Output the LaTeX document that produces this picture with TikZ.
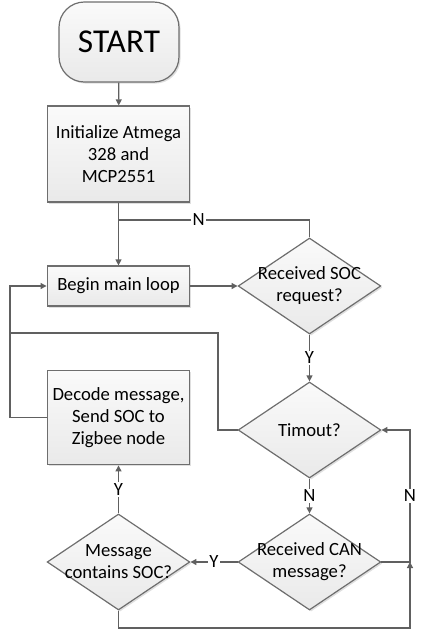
\documentclass[tikz,border=0pt]{standalone}
\usepackage{fontspec}
\setmainfont{Carlito}
\usetikzlibrary{shapes.geometric,shadows,arrows.meta}
\definecolor{edgegray}{HTML}{6E6E6E}
\definecolor{linegray}{HTML}{606060}
\tikzset{
  flowbox/.style={draw=edgegray, line width=0.9pt, top color=gray!4, bottom color=gray!17,
    drop shadow={opacity=0.25, shadow xshift=1.2pt, shadow yshift=-1.2pt},
    inner sep=0pt, align=center, font=\fontsize{14}{16.5}\selectfont},
  decision/.style={flowbox, diamond, aspect=1.49},
  dtext/.style={align=center, font=\fontsize{14}{16.5}\selectfont},
  link/.style={draw=linegray, line width=0.9pt},
  tip/.style={link, -{Triangle[length=4.5pt,width=4.5pt]}},
  lbl/.style={inner sep=1pt, fill=white, font=\fontsize{14}{16}\selectfont}
}
\begin{document}
\begin{tikzpicture}[x=0.75pt,y=0.75pt,yscale=-1,xscale=1]
\useasboundingbox (0,0) rectangle (428,637);

% boxes
\node [flowbox, rounded corners=19pt, minimum width=90pt, minimum height=60pt, font=\fontsize{25}{30}\selectfont] (start) at (119,42) {START};
\node [flowbox, minimum width=107pt, minimum height=72pt] (init) at (118.5,154) {Initialize Atmega\\328 and\\MCP2551};
\node [flowbox, minimum width=107pt, minimum height=30pt] (loop) at (118.5,286) {Begin main loop};
\node [flowbox, minimum width=107pt, minimum height=71pt] (decode) at (118.5,417.5) {Decode message,\\Send SOC to\\Zigbee node};

% decisions
\node [decision, minimum width=107pt, minimum height=72pt, label={[dtext]center:Received SOC\\request?}] (soc) at (309.5,286) {};
\node [decision, minimum width=107pt, minimum height=72pt, label={[dtext]center:Timout?}] (timeout) at (309.5,430) {};
\node [decision, minimum width=107pt, minimum height=72pt, label={[dtext]center:Received CAN\\message?}] (can) at (309.5,562) {};
\node [decision, minimum width=107pt, minimum height=72pt, label={[dtext]center:Message\\contains SOC?}] (msg) at (118.5,562) {};

% corner points
\coordinate (njoin) at (118.5,220);
\coordinate (leftrail) at (10,286);
\coordinate (tturn) at (218,430);
\coordinate (rrail) at (410,562);

% connectors
\draw [tip] (start) -- (init);
\draw [tip] (init) -- (loop);
\draw [link] (soc.north) |- (njoin) node [lbl, pos=0.79] {N};
\draw [tip] (loop) -- (soc);
\draw [tip] (soc) -- node [lbl] {Y} (timeout);
\draw [tip] (timeout) -- node [lbl] {N} (can);
\draw [tip] (can) -- node [lbl] {Y} (msg);
\draw [tip] (msg) -- node [lbl] {Y} (decode);
\draw [tip] (decode.west) -| (leftrail) -- (loop.west);
\draw [link] (timeout.west) -- (tturn) |- (10,333);
\draw [tip] (can.east) -| (410,430) node [lbl, pos=0.75] {N} -- (timeout.east);
\draw [tip] (msg.south) |- (410,628) -- (rrail);
\end{tikzpicture}
\end{document}
